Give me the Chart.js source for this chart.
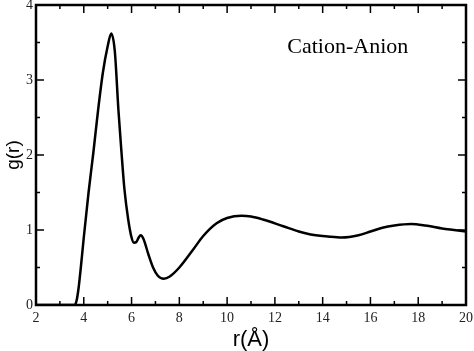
<!DOCTYPE html>
<html>
<head>
<meta charset="utf-8">
<script src="https://cdn.jsdelivr.net/npm/chart.js@4.4.1/dist/chart.umd.min.js"></script>
<style>
  html, body { margin: 0; padding: 0; background: #fff; }
  #wrap { width: 474px; height: 351px; }
</style>
</head>
<body>
<div id="wrap"><canvas id="rdfChart" width="474" height="351"></canvas></div>
<script>
// radial distribution
const rValues = [2.0, 3.5, 3.62, 3.7, 3.78, 3.87, 4.0, 4.2, 4.4, 4.6, 4.8, 5.0, 5.15, 5.3, 5.45,
  5.58, 5.7, 5.86, 6.0, 6.1, 6.2, 6.3, 6.38, 6.5, 6.7, 6.9, 7.1, 7.35, 7.6, 8.0, 8.58,
  9.0, 9.56, 10.0, 10.6, 11.0, 11.5, 12.35, 13.0, 13.5, 14.3, 14.8, 15.5, 16.0, 16.5,
  17.0, 17.7, 18.3, 19.0, 19.5, 20.0];
const gValues = [0, 0, 0.0, 0.06, 0.22, 0.48, 0.9, 1.5, 2.03, 2.6, 3.1, 3.45, 3.62, 3.38, 2.6,
  2.03, 1.55, 1.14, 0.9, 0.83, 0.84, 0.9, 0.93, 0.88, 0.68, 0.5, 0.39, 0.35, 0.38, 0.5, 0.74,
  0.92, 1.09, 1.16, 1.19, 1.18, 1.14, 1.05, 0.98, 0.94, 0.91, 0.90, 0.93, 0.98, 1.03,
  1.06, 1.08, 1.06, 1.02, 1.0, 0.98];

const xMajorTicks = [2, 4, 6, 8, 10, 12, 14, 16, 18, 20];
const xMinorTicks = [3, 5, 7, 9, 11, 13, 15, 17, 19];
const yMajorTicks = [0, 1, 2, 3, 4];
const yMinorTicks = [0.5, 1.5, 2.5, 3.5];

const panelLabel = 'Cation-Anion';

// box frame + inward ticks like the original xmgrace style
const framePlugin = {
  id: 'frame',
  afterDatasetsDraw(chart) {
    const { ctx, chartArea: a, scales } = chart;
    const x = scales.x, y = scales.y;
    ctx.save();
    ctx.strokeStyle = '#000';
    ctx.lineWidth = 1.5;
    ctx.beginPath();
    const tick = (vals, len) => {
      vals.forEach((v) => {
        const px = x.getPixelForValue(v);
        ctx.moveTo(px, a.bottom); ctx.lineTo(px, a.bottom - len);
        ctx.moveTo(px, a.top); ctx.lineTo(px, a.top + len);
      });
    };
    const tickY = (vals, len) => {
      vals.forEach((v) => {
        const py = y.getPixelForValue(v);
        ctx.moveTo(a.left, py); ctx.lineTo(a.left + len, py);
        ctx.moveTo(a.right, py); ctx.lineTo(a.right - len, py);
      });
    };
    tick(xMajorTicks, 8);
    tick(xMinorTicks, 4);
    tickY(yMajorTicks, 8);
    tickY(yMinorTicks, 4);
    ctx.stroke();

    ctx.lineWidth = 2.5;
    ctx.strokeRect(a.left, a.top, a.right - a.left, a.bottom - a.top);

    ctx.fillStyle = '#000';
    ctx.font = '22px "Liberation Serif", serif';
    ctx.textAlign = 'center';
    ctx.textBaseline = 'middle';
    ctx.fillText(panelLabel, x.getPixelForValue(15.05), y.getPixelForValue(3.44));
    ctx.restore();
  }
};

const ctx = document.getElementById('rdfChart').getContext('2d');
new Chart(ctx, {
  type: 'line',
  data: {
    datasets: [
      {
        label: 'g(r)',
        data: rValues.map((r, i) => ({ x: r, y: gValues[i] })),
        borderColor: '#000',
        borderWidth: 2.5,
        pointRadius: 0,
        cubicInterpolationMode: 'monotone',
        fill: false,
      },
    ],
  },
  options: {
    responsive: false,
    animation: false,
    maintainAspectRatio: false,
    layout: { padding: { left: 0, right: 8, top: 5, bottom: 0 } },
    plugins: {
      legend: { display: false },
      tooltip: { enabled: false },
    },
    scales: {
      x: {
        type: 'linear',
        min: 2,
        max: 20,
        afterBuildTicks: (scale) => {
          scale.ticks = xMajorTicks.map((v) => ({ value: v }));
        },
        afterFit: (scale) => {
          scale.height = 46;
          scale.paddingLeft = 0;
          scale.paddingRight = 0;
        },
        grid: { display: false, drawTicks: false },
        border: { display: false },
        ticks: {
          autoSkip: false,
          maxRotation: 0,
          padding: 5,
          color: '#222',
          font: { family: '"Liberation Serif", serif', size: 14 },
        },
        title: {
          display: true,
          text: 'r(Å)',
          color: '#000',
          padding: { top: 0, bottom: 0 },
          font: { family: '"Liberation Sans", Arial, sans-serif', size: 22, lineHeight: 1 },
        },
      },
      y: {
        type: 'linear',
        min: 0,
        max: 4,
        afterBuildTicks: (scale) => {
          scale.ticks = yMajorTicks.map((v) => ({ value: v }));
        },
        afterFit: (scale) => {
          scale.width = 36;
          scale.paddingTop = 0;
          scale.paddingBottom = 0;
        },
        grid: { display: false, drawTicks: false },
        border: { display: false },
        ticks: {
          padding: 3,
          color: '#222',
          font: { family: '"Liberation Serif", serif', size: 14 },
        },
        title: {
          display: true,
          text: 'g(r)',
          color: '#000',
          padding: { top: 4, bottom: 0 },
          font: { family: '"Liberation Sans", Arial, sans-serif', size: 19, lineHeight: 1 },
        },
      },
    },
  },
  plugins: [framePlugin],
});
</script>
</body>
</html>
